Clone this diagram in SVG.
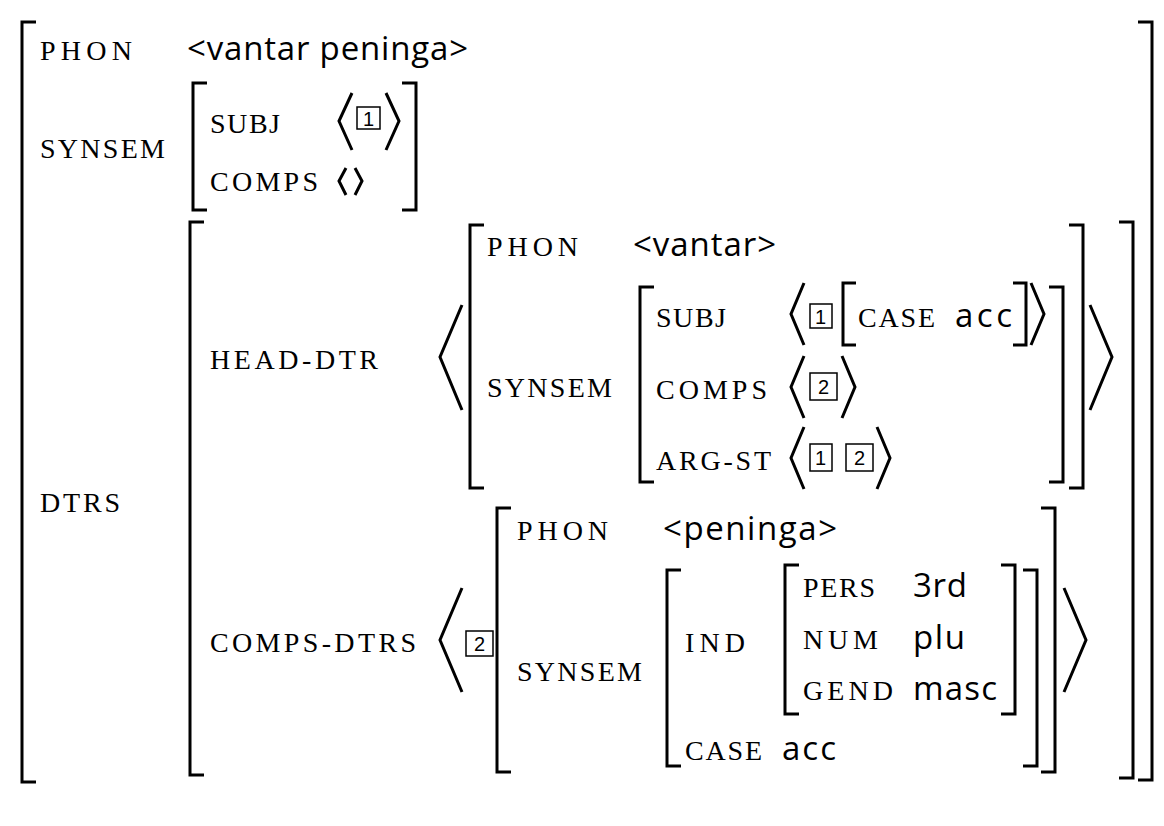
<svg xmlns="http://www.w3.org/2000/svg" width="1164" height="826" viewBox="0 0 1164 826">
<style>
.f{font-family:"Liberation Serif",serif;font-size:28px;fill:#000}
.v{font-family:"Open Sans","DejaVu Sans",sans-serif;font-size:33px;fill:#000}
.b{fill:none;stroke:#000;stroke-width:3}
.a{fill:none;stroke:#000;stroke-width:3;stroke-linejoin:miter}
.t{font-family:"Liberation Sans",sans-serif;font-size:20px;fill:#000}
.bx{fill:none;stroke:#000;stroke-width:1.5}
</style>
<rect width="1164" height="826" fill="#fff"/>
<!-- outer brackets -->
<path class="b" d="M36,22 H22 V782 H36"/>
<path class="b" d="M1138,22 H1152 V780 H1138"/>
<text class="f" x="40" y="60" textLength="92">PHON</text>
<text class="v" x="187" y="60" textLength="281">&lt;vantar peninga&gt;</text>
<text class="f" x="40" y="158" textLength="125">SYNSEM</text>
<path class="b" d="M207,83 H193 V210 H207"/>
<path class="b" d="M402,83 H416 V210 H402"/>
<text class="f" x="210" y="133" textLength="70">SUBJ</text>
<path class="a" d="M352,93 L339,121 L352,150"/>
<rect class="bx" x="357" y="107" width="23" height="22"/>
<text class="t" x="363" y="126">1</text>
<path class="a" d="M386,93 L399,121 L386,150"/>
<text class="f" x="210" y="191" textLength="108">COMPS</text>
<path class="a" d="M346,168 L339,181 L346,195"/>
<path class="a" d="M355,168 L362,181 L355,195"/>
<text class="f" x="40" y="512" textLength="80">DTRS</text>
<!-- DTRS bracket -->
<path class="b" d="M204,222 H190 V775 H204"/>
<path class="b" d="M1119,222 H1133 V778 H1119"/>
<!-- HEAD-DTR -->
<text class="f" x="210" y="369" textLength="168">HEAD-DTR</text>
<path class="a" d="M462,305 L440,357 L462,410"/>
<path class="a" d="M1090,305 L1112,357 L1090,410"/>
<path class="b" d="M484,225 H470 V488 H484"/>
<path class="b" d="M1069,225 H1083 V488 H1069"/>
<text class="f" x="487" y="256" textLength="91">PHON</text>
<text class="v" x="633" y="256" textLength="143">&lt;vantar&gt;</text>
<text class="f" x="487" y="397" textLength="125">SYNSEM</text>
<path class="b" d="M654,287 H640 V482 H654"/>
<path class="b" d="M1049,287 H1063 V482 H1049"/>
<text class="f" x="656" y="327" textLength="70">SUBJ</text>
<path class="a" d="M804,283 L791,314 L804,345"/>
<rect class="bx" x="810" y="304" width="22" height="24"/>
<text class="t" x="815" y="324">1</text>
<path class="b" d="M856,283 H843 V345 H856"/>
<text class="f" x="858" y="327" textLength="77">CASE</text>
<text class="v" x="955" y="327" textLength="57">acc</text>
<path class="b" d="M1013,283 H1026 V345 H1013"/>
<path class="a" d="M1031,283 L1044,314 L1031,345"/>
<text class="f" x="656" y="399" textLength="111">COMPS</text>
<path class="a" d="M804,356 L791,387 L804,418"/>
<rect class="bx" x="810" y="373" width="27" height="27"/>
<text class="t" x="818" y="394">2</text>
<path class="a" d="M842,356 L855,387 L842,418"/>
<text class="f" x="656" y="470" textLength="115">ARG-ST</text>
<path class="a" d="M804,427 L791,458 L804,489"/>
<rect class="bx" x="810" y="444" width="22" height="27"/>
<text class="t" x="815" y="465">1</text>
<rect class="bx" x="846" y="444" width="27" height="27"/>
<text class="t" x="854" y="465">2</text>
<path class="a" d="M877,427 L890,458 L877,489"/>
<!-- COMPS-DTRS -->
<text class="f" x="210" y="652" textLength="206">COMPS-DTRS</text>
<path class="a" d="M462,588 L440,640 L462,692"/>
<rect class="bx" x="466" y="631" width="27" height="25"/>
<text class="t" x="474" y="651">2</text>
<path class="a" d="M1064,588 L1086,640 L1064,692"/>
<path class="b" d="M511,508 H497 V772 H511"/>
<path class="b" d="M1041,508 H1055 V772 H1041"/>
<text class="f" x="517" y="540" textLength="91">PHON</text>
<text class="v" x="663" y="540" textLength="174">&lt;peninga&gt;</text>
<text class="f" x="517" y="681" textLength="125">SYNSEM</text>
<path class="b" d="M681,570 H667 V766 H681"/>
<path class="b" d="M1023,570 H1037 V766 H1023"/>
<text class="f" x="685" y="652" textLength="60">IND</text>
<path class="b" d="M799,565 H785 V714 H799"/>
<path class="b" d="M1001,565 H1015 V714 H1001"/>
<text class="f" x="803" y="597" textLength="72">PERS</text>
<text class="v" x="913" y="597" textLength="54">3rd</text>
<text class="f" x="803" y="649" textLength="75">NUM</text>
<text class="v" x="913" y="649" textLength="52">plu</text>
<text class="f" x="803" y="700" textLength="90">GEND</text>
<text class="v" x="913" y="700" textLength="84">masc</text>
<text class="f" x="685" y="760" textLength="77">CASE</text>
<text class="v" x="782" y="760" textLength="54">acc</text>
</svg>
